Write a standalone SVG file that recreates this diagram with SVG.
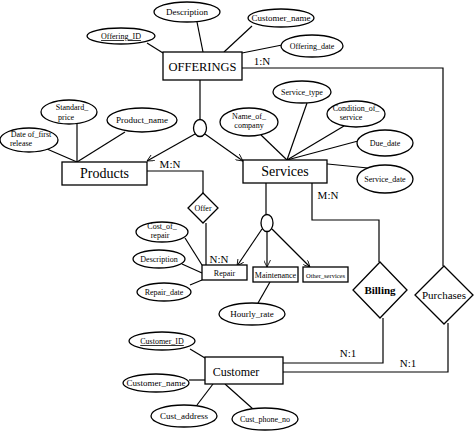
<svg xmlns="http://www.w3.org/2000/svg" width="474" height="432" viewBox="0 0 474 432">
<defs>
<marker id="arr" viewBox="0 0 10 10" refX="10" refY="5" markerWidth="7" markerHeight="7" orient="auto" markerUnits="userSpaceOnUse">
<path d="M0,0 L10,5 L0,10" fill="none" stroke="#000" stroke-width="1.2"/>
</marker>
<style>
.e{fill:#fff;stroke:#000;stroke-width:1.3}
.r{fill:#fff;stroke:#000;stroke-width:1.3}
.l{fill:none;stroke:#000;stroke-width:1.2}
text{font-family:"Liberation Serif","Times New Roman",serif;fill:#000;text-anchor:middle}
.a{font-size:9px}
.s{font-size:8px}
.en{font-size:14px}
.c{font-size:11px}
</style>
</defs>
<rect width="474" height="432" fill="#fff"/>
<g id="connectors">
<line class="l" x1="197" y1="22" x2="203" y2="52"/>
<line class="l" x1="252" y1="26" x2="224" y2="52"/>
<line class="l" x1="147" y1="43" x2="163" y2="53"/>
<line class="l" x1="242" y1="53" x2="282" y2="45"/>
<polyline class="l" points="242,68 443,68 443,266"/>
<line class="l" x1="200" y1="80" x2="200" y2="120"/>
<line class="l" x1="195" y1="134" x2="147" y2="161" marker-end="url(#arr)"/>
<line class="l" x1="205" y1="134" x2="243" y2="161" marker-end="url(#arr)"/>
<line class="l" x1="47" y1="149" x2="77" y2="162"/>
<line class="l" x1="77" y1="124" x2="77" y2="162"/>
<line class="l" x1="125" y1="132" x2="77" y2="162"/>
<polyline class="l" points="147,171 203,171 203,193"/>
<line class="l" x1="206" y1="223" x2="206" y2="265"/>
<line class="l" x1="261" y1="135" x2="287" y2="160"/>
<line class="l" x1="307" y1="103" x2="287" y2="160"/>
<line class="l" x1="344" y1="126" x2="287" y2="160"/>
<line class="l" x1="358" y1="141" x2="287" y2="160"/>
<line class="l" x1="287" y1="160" x2="368" y2="168"/>
<polyline class="l" points="312,183 312,220 379,220 379,262"/>
<line class="l" x1="266" y1="183" x2="266" y2="215"/>
<line class="l" x1="262" y1="229" x2="237" y2="266" marker-end="url(#arr)"/>
<line class="l" x1="267" y1="232" x2="267" y2="267" marker-end="url(#arr)"/>
<line class="l" x1="272" y1="229" x2="310" y2="267" marker-end="url(#arr)"/>
<line class="l" x1="185" y1="238" x2="202" y2="265"/>
<line class="l" x1="182" y1="264" x2="202" y2="273"/>
<line class="l" x1="190" y1="285" x2="202" y2="280"/>
<line class="l" x1="270" y1="282" x2="258" y2="303"/>
<polyline class="l" points="383,318 383,363 283,363"/>
<polyline class="l" points="448,323 448,372 283,372"/>
<line class="l" x1="190" y1="349" x2="205" y2="358"/>
<line class="l" x1="189" y1="380" x2="205" y2="380"/>
<line class="l" x1="197" y1="405" x2="213" y2="384"/>
<line class="l" x1="253" y1="409" x2="225" y2="384"/>
</g>
<text class="c" x="262" y="65">1:N</text>
<text class="c" x="170" y="168">M:N</text>
<text class="c" x="328" y="199">M:N</text>
<text class="c" x="219" y="263">N:N</text>
<text class="c" x="348" y="357">N:1</text>
<text class="c" x="408" y="367">N:1</text>
<g id="offerings">
<rect class="r" x="163" y="52" width="79" height="28"/>
<text x="202.5" y="71" font-size="12.5">OFFERINGS</text>
</g>
<g id="description1"><ellipse class="e" cx="187" cy="12" rx="33" ry="10"/><text class="a" x="187" y="15">Description</text></g>
<g id="customer_name1"><ellipse class="e" cx="281" cy="18" rx="33" ry="9"/><text class="a" x="281" y="21">Customer_name</text></g>
<g id="offering_id"><ellipse class="e" cx="121" cy="36" rx="34" ry="8"/><text class="s" x="121" y="39" text-decoration="underline">Offering_ID</text></g>
<g id="offering_date"><ellipse class="e" cx="312" cy="46" rx="31" ry="11"/><text class="s" x="312" y="49">Offering_date</text></g>
<g id="isa1"><ellipse class="e" cx="200" cy="128" rx="6.5" ry="8.5"/></g>
<g id="products">
<rect class="r" x="62" y="162" width="85" height="23"/>
<text class="en" x="104.5" y="178">Products</text>
</g>
<g id="standard_price"><ellipse class="e" cx="69" cy="112" rx="28" ry="12"/><text class="s" x="72" y="110">Standard_</text><text class="s" x="66" y="120">price</text></g>
<g id="product_name"><ellipse class="e" cx="142" cy="120" rx="35" ry="12"/><text class="a" x="142" y="123">Product_name</text></g>
<g id="date_first_release"><ellipse class="e" cx="29" cy="140" rx="29" ry="12"/><text class="s" x="31" y="137">Date of_first</text><text class="s" x="21" y="146">release</text></g>
<g id="services">
<rect class="r" x="243" y="160" width="84" height="23"/>
<text class="en" x="285" y="176">Services</text>
</g>
<g id="service_type"><ellipse class="e" cx="302" cy="92" rx="29" ry="11"/><text class="s" x="302" y="95">Service_type</text></g>
<g id="name_of_company"><ellipse class="e" cx="249" cy="122" rx="29" ry="14"/><text class="s" x="249" y="119">Name_of_</text><text class="s" x="249" y="128">company</text></g>
<g id="condition_of_service"><ellipse class="e" cx="356" cy="114" rx="29" ry="13"/><text class="s" x="356" y="111">Condition_of_</text><text class="s" x="351" y="120">service</text></g>
<g id="due_date"><ellipse class="e" cx="385" cy="143" rx="28" ry="13"/><text class="s" x="385" y="146">Due_date</text></g>
<g id="service_date"><ellipse class="e" cx="385" cy="179" rx="28" ry="14"/><text class="s" x="385" y="182">Service_date</text></g>
<g id="offer"><polygon class="e" points="203,193 218,208 203,223 188,208"/><text class="s" x="203" y="211">Offer</text></g>
<g id="isa2"><ellipse class="e" cx="267" cy="223" rx="6" ry="8.5"/></g>
<g id="repair">
<rect class="r" x="202" y="265" width="45" height="15"/>
<text class="s" x="224.5" y="276">Repair</text>
</g>
<g id="maintenance">
<rect class="r" x="253" y="267" width="45" height="15"/>
<text class="s" x="275.5" y="278">Maintenance</text>
</g>
<g id="other_services">
<rect class="r" x="303" y="267" width="45" height="15"/>
<text x="325.5" y="278" font-size="6.5">Other_services</text>
</g>
<g id="cost_of_repair"><ellipse class="e" cx="162" cy="232" rx="26" ry="10"/><text class="s" x="162" y="229">Cost_of_</text><text class="s" x="160" y="238">repair</text></g>
<g id="description2"><ellipse class="e" cx="159" cy="259" rx="26" ry="9"/><text class="s" x="159" y="262">Description</text></g>
<g id="repair_date"><ellipse class="e" cx="164" cy="292" rx="27" ry="9"/><text class="s" x="164" y="295">Repair_date</text></g>
<g id="hourly_rate"><ellipse class="e" cx="252" cy="314" rx="33" ry="11"/><text class="a" x="252" y="317">Hourly_rate</text></g>
<g id="billing"><polygon class="e" points="380,262 407,290 380,318 353,290"/><text x="380" y="294" font-size="11" font-weight="bold">Billing</text></g>
<g id="purchases"><polygon class="e" points="444,266 473,295 444,324 415,295"/><text x="444" y="299" font-size="11">Purchases</text></g>
<g id="customer">
<rect class="r" x="205" y="357" width="78" height="27"/>
<text x="236" y="376" font-size="12">Customer</text>
</g>
<g id="customer_id"><ellipse class="e" cx="162" cy="341" rx="33" ry="9"/><text class="s" x="162" y="344" text-decoration="underline">Customer_ID</text></g>
<g id="customer_name2"><ellipse class="e" cx="156" cy="383" rx="33" ry="9"/><text class="a" x="156" y="386">Customer_name</text></g>
<g id="cust_address"><ellipse class="e" cx="184" cy="416" rx="33" ry="11"/><text class="a" x="184" y="419">Cust_address</text></g>
<g id="cust_phone_no"><ellipse class="e" cx="265" cy="419" rx="33" ry="11"/><text class="s" x="265" y="422">Cust_phone_no</text></g>
</svg>
